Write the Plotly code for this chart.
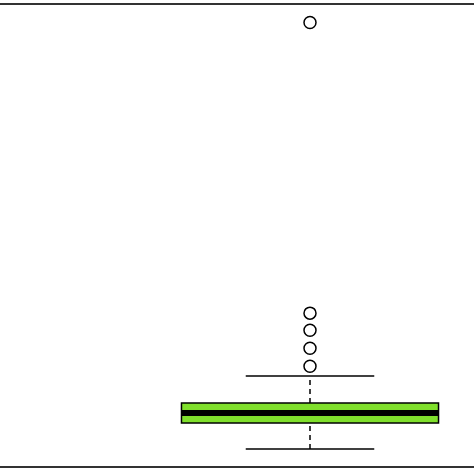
import plotly.graph_objects as go

# box statistics
lower_whisker = [0.0]
q1 = [1.45]
median = [2.0]
q3 = [2.55]
upper_whisker = [4.05]
outliers = [4.6, 5.6, 6.6, 7.55, 23.7]

box_x = 0
fill_green = "#80E02C"

fig = go.Figure()

# box body (no whiskers, drawn separately so they can be dashed)
fig.add_trace(go.Box(
    x=[box_x], q1=q1, median=median, q3=q3,
    lowerfence=q1, upperfence=q3,
    width=1, fillcolor=fill_green,
    line=dict(color="black", width=1.5),
    boxpoints=False, hoverinfo="skip", showlegend=False,
))

# thick median line
fig.add_trace(go.Scatter(
    x=[box_x - 0.5, box_x + 0.5], y=[median[0], median[0]],
    mode="lines", line=dict(color="black", width=6),
    hoverinfo="skip", showlegend=False,
))

# dashed whiskers
for a, b in [(q3[0], upper_whisker[0]), (lower_whisker[0], q1[0])]:
    fig.add_trace(go.Scatter(
        x=[box_x, box_x], y=[a, b], mode="lines",
        line=dict(color="black", width=1.5, dash="5px,4px"),
        hoverinfo="skip", showlegend=False,
    ))

# whisker caps
for v in [upper_whisker[0], lower_whisker[0]]:
    fig.add_trace(go.Scatter(
        x=[box_x - 0.25, box_x + 0.25], y=[v, v], mode="lines",
        line=dict(color="black", width=1.5),
        hoverinfo="skip", showlegend=False,
    ))

# outliers
fig.add_trace(go.Scatter(
    x=[box_x] * len(outliers), y=outliers, mode="markers",
    marker=dict(symbol="circle-open", size=12, color="black",
                line=dict(width=1.5)),
    showlegend=False,
))

fig.update_layout(
    width=474, height=474,
    margin=dict(l=0, r=0, t=5, b=8),
    paper_bgcolor="white", plot_bgcolor="white",
    xaxis=dict(range=[-1.206, 0.638], showgrid=False, zeroline=False,
               showticklabels=False, ticks="",
               showline=True, mirror=True, linecolor="#333", linewidth=2),
    yaxis=dict(range=[-0.944, 24.67], showgrid=False, zeroline=False,
               showticklabels=False, ticks="", showline=False),
)

fig.write_html("out.html", config={"displayModeBar": False},
               post_script="document.body.style.margin='0';")
